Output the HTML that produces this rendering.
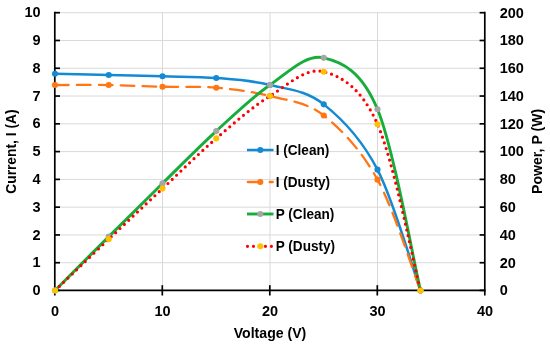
<!DOCTYPE html>
<html><head><meta charset="utf-8"><style>
html,body{margin:0;padding:0;background:#fff;}
svg{display:block;filter:blur(0.3px);}
.tk,.ti,.lg{font-family:"Liberation Sans",Arial,sans-serif;font-weight:bold;fill:#000;}
.tk{font-size:14.5px;}
.ti{font-size:14.1px;}
.lg{font-size:13.6px;}
</style></head><body>
<svg width="550" height="345" viewBox="0 0 550 345">
<rect width="550" height="345" fill="#fff"/>
<line x1="55.0" y1="262.72" x2="485.0" y2="262.72" stroke="#D9D9D9" stroke-width="1"/>
<line x1="55.0" y1="234.94" x2="485.0" y2="234.94" stroke="#D9D9D9" stroke-width="1"/>
<line x1="55.0" y1="207.16" x2="485.0" y2="207.16" stroke="#D9D9D9" stroke-width="1"/>
<line x1="55.0" y1="179.38" x2="485.0" y2="179.38" stroke="#D9D9D9" stroke-width="1"/>
<line x1="55.0" y1="151.60" x2="485.0" y2="151.60" stroke="#D9D9D9" stroke-width="1"/>
<line x1="55.0" y1="123.82" x2="485.0" y2="123.82" stroke="#D9D9D9" stroke-width="1"/>
<line x1="55.0" y1="96.04" x2="485.0" y2="96.04" stroke="#D9D9D9" stroke-width="1"/>
<line x1="55.0" y1="68.26" x2="485.0" y2="68.26" stroke="#D9D9D9" stroke-width="1"/>
<line x1="55.0" y1="40.48" x2="485.0" y2="40.48" stroke="#D9D9D9" stroke-width="1"/>
<line x1="55.0" y1="12.70" x2="485.0" y2="12.70" stroke="#D9D9D9" stroke-width="1"/>
<line x1="162.50" y1="12.7" x2="162.50" y2="290.5" stroke="#D9D9D9" stroke-width="1"/>
<line x1="270.00" y1="12.7" x2="270.00" y2="290.5" stroke="#D9D9D9" stroke-width="1"/>
<line x1="377.50" y1="12.7" x2="377.50" y2="290.5" stroke="#D9D9D9" stroke-width="1"/>
<line x1="54.8" y1="11.85" x2="54.8" y2="295.5" stroke="#000" stroke-width="1.7"/>
<line x1="484.8" y1="11.85" x2="484.8" y2="295.5" stroke="#000" stroke-width="1.7"/>
<line x1="53.949999999999996" y1="290.4" x2="485.65000000000003" y2="290.4" stroke="#000" stroke-width="1.7"/>
<line x1="54.8" y1="290.40" x2="60.0" y2="290.40" stroke="#000" stroke-width="1.7"/>
<line x1="479.6" y1="290.40" x2="484.8" y2="290.40" stroke="#000" stroke-width="1.7"/>
<line x1="54.8" y1="262.72" x2="60.0" y2="262.72" stroke="#000" stroke-width="1.7"/>
<line x1="479.6" y1="262.72" x2="484.8" y2="262.72" stroke="#000" stroke-width="1.7"/>
<line x1="54.8" y1="234.94" x2="60.0" y2="234.94" stroke="#000" stroke-width="1.7"/>
<line x1="479.6" y1="234.94" x2="484.8" y2="234.94" stroke="#000" stroke-width="1.7"/>
<line x1="54.8" y1="207.16" x2="60.0" y2="207.16" stroke="#000" stroke-width="1.7"/>
<line x1="479.6" y1="207.16" x2="484.8" y2="207.16" stroke="#000" stroke-width="1.7"/>
<line x1="54.8" y1="179.38" x2="60.0" y2="179.38" stroke="#000" stroke-width="1.7"/>
<line x1="479.6" y1="179.38" x2="484.8" y2="179.38" stroke="#000" stroke-width="1.7"/>
<line x1="54.8" y1="151.60" x2="60.0" y2="151.60" stroke="#000" stroke-width="1.7"/>
<line x1="479.6" y1="151.60" x2="484.8" y2="151.60" stroke="#000" stroke-width="1.7"/>
<line x1="54.8" y1="123.82" x2="60.0" y2="123.82" stroke="#000" stroke-width="1.7"/>
<line x1="479.6" y1="123.82" x2="484.8" y2="123.82" stroke="#000" stroke-width="1.7"/>
<line x1="54.8" y1="96.04" x2="60.0" y2="96.04" stroke="#000" stroke-width="1.7"/>
<line x1="479.6" y1="96.04" x2="484.8" y2="96.04" stroke="#000" stroke-width="1.7"/>
<line x1="54.8" y1="68.26" x2="60.0" y2="68.26" stroke="#000" stroke-width="1.7"/>
<line x1="479.6" y1="68.26" x2="484.8" y2="68.26" stroke="#000" stroke-width="1.7"/>
<line x1="54.8" y1="40.48" x2="60.0" y2="40.48" stroke="#000" stroke-width="1.7"/>
<line x1="479.6" y1="40.48" x2="484.8" y2="40.48" stroke="#000" stroke-width="1.7"/>
<line x1="54.8" y1="12.70" x2="60.0" y2="12.70" stroke="#000" stroke-width="1.7"/>
<line x1="479.6" y1="12.70" x2="484.8" y2="12.70" stroke="#000" stroke-width="1.7"/>
<line x1="162.30" y1="285.2" x2="162.30" y2="295.5" stroke="#000" stroke-width="1.7"/>
<line x1="269.80" y1="285.2" x2="269.80" y2="295.5" stroke="#000" stroke-width="1.7"/>
<line x1="377.30" y1="285.2" x2="377.30" y2="295.5" stroke="#000" stroke-width="1.7"/>
<path d="M55.00,73.82 C63.96,74.00 90.83,74.51 108.75,74.93 C126.67,75.34 144.58,75.81 162.50,76.32 C180.42,76.83 198.33,76.55 216.25,77.98 C234.17,79.42 252.08,80.53 270.00,84.93 C287.92,89.33 305.83,90.25 323.75,104.37 C341.67,118.50 361.38,138.64 377.50,169.66 C393.62,200.68 413.33,270.36 420.50,290.50" fill="none" stroke="#1489D4" stroke-width="2.5"/>
<circle cx="55.00" cy="73.82" r="3.05" fill="#1489D4"/>
<circle cx="108.75" cy="74.93" r="3.05" fill="#1489D4"/>
<circle cx="162.50" cy="76.32" r="3.05" fill="#1489D4"/>
<circle cx="216.25" cy="77.98" r="3.05" fill="#1489D4"/>
<circle cx="270.00" cy="84.93" r="3.05" fill="#1489D4"/>
<circle cx="323.75" cy="104.37" r="3.05" fill="#1489D4"/>
<circle cx="377.50" cy="169.66" r="3.05" fill="#1489D4"/>
<circle cx="420.50" cy="290.50" r="3.05" fill="#1489D4"/>
<path d="M55.00,85.07 C63.96,85.07 90.83,84.79 108.75,85.07 C126.67,85.34 144.58,86.29 162.50,86.73 C180.42,87.17 198.33,86.15 216.25,87.71 C234.17,89.26 252.08,91.41 270.00,96.04 C287.92,100.67 305.83,101.55 323.75,115.49 C341.67,129.42 361.38,150.49 377.50,179.66 C393.62,208.83 413.33,272.03 420.50,290.50" fill="none" stroke="#FF7614" stroke-width="2.3" stroke-dasharray="13.7 8.2" stroke-linecap="round"/>
<circle cx="55.00" cy="85.07" r="3.05" fill="#FF7614"/>
<circle cx="108.75" cy="85.07" r="3.05" fill="#FF7614"/>
<circle cx="162.50" cy="86.73" r="3.05" fill="#FF7614"/>
<circle cx="216.25" cy="87.71" r="3.05" fill="#FF7614"/>
<circle cx="270.00" cy="96.04" r="3.05" fill="#FF7614"/>
<circle cx="323.75" cy="115.49" r="3.05" fill="#FF7614"/>
<circle cx="377.50" cy="179.66" r="3.05" fill="#FF7614"/>
<circle cx="420.50" cy="290.50" r="3.05" fill="#FF7614"/>
<path d="M55.00,290.50 C63.96,281.52 90.83,254.46 108.75,236.61 C126.67,218.76 144.58,200.99 162.50,183.41 C180.42,165.83 198.33,147.53 216.25,131.11 C234.17,114.70 252.08,97.14 270.00,84.93 C287.92,72.72 305.83,53.79 323.75,57.84 C341.67,61.89 361.38,70.46 377.50,109.24 C393.62,148.01 413.33,260.29 420.50,290.50" fill="none" stroke="#16AD3A" stroke-width="2.9"/>
<circle cx="55.00" cy="290.50" r="3.05" fill="#A6A6A6"/>
<circle cx="108.75" cy="236.61" r="3.05" fill="#A6A6A6"/>
<circle cx="162.50" cy="183.41" r="3.05" fill="#A6A6A6"/>
<circle cx="216.25" cy="131.11" r="3.05" fill="#A6A6A6"/>
<circle cx="270.00" cy="84.93" r="3.05" fill="#A6A6A6"/>
<circle cx="323.75" cy="57.84" r="3.05" fill="#A6A6A6"/>
<circle cx="377.50" cy="109.24" r="3.05" fill="#A6A6A6"/>
<circle cx="420.50" cy="290.50" r="3.05" fill="#A6A6A6"/>
<path d="M55.00,290.50 C63.96,281.94 90.83,256.12 108.75,239.14 C126.67,222.16 144.58,205.41 162.50,188.62 C180.42,171.83 198.33,153.83 216.25,138.40 C234.17,122.98 252.08,107.15 270.00,96.04 C287.92,84.93 305.83,67.03 323.75,71.73 C341.67,76.43 361.38,87.78 377.50,124.24 C393.62,160.70 413.33,262.79 420.50,290.50" fill="none" stroke="#FF0000" stroke-width="3.2" stroke-dasharray="0 5.984" stroke-linecap="round"/>
<circle cx="55.00" cy="290.50" r="3.05" fill="#FFC000"/>
<circle cx="108.75" cy="239.14" r="3.05" fill="#FFC000"/>
<circle cx="162.50" cy="188.62" r="3.05" fill="#FFC000"/>
<circle cx="216.25" cy="138.40" r="3.05" fill="#FFC000"/>
<circle cx="270.00" cy="96.04" r="3.05" fill="#FFC000"/>
<circle cx="323.75" cy="71.73" r="3.05" fill="#FFC000"/>
<circle cx="377.50" cy="124.24" r="3.05" fill="#FFC000"/>
<circle cx="420.50" cy="290.50" r="3.05" fill="#FFC000"/>
<line x1="247.0" y1="150" x2="273.5" y2="150" stroke="#1489D4" stroke-width="2.5"/>
<circle cx="260.3" cy="150" r="3.05" fill="#1489D4"/>
<text transform="translate(275.7,154.6) scale(1,1.1)" class="lg">I (Clean)</text>
<line x1="247.8" y1="182" x2="272.8" y2="182" stroke="#FF7614" stroke-width="2.3" stroke-dasharray="13.7 8.2" stroke-linecap="round"/>
<circle cx="260.3" cy="182" r="3.05" fill="#FF7614"/>
<text transform="translate(275.7,186.6) scale(1,1.1)" class="lg">I (Dusty)</text>
<line x1="247.0" y1="214" x2="273.5" y2="214" stroke="#16AD3A" stroke-width="2.9"/>
<circle cx="260.3" cy="214" r="3.05" fill="#A6A6A6"/>
<text transform="translate(275.7,218.6) scale(1,1.1)" class="lg">P (Clean)</text>
<line x1="247.5" y1="246.3" x2="273.5" y2="246.3" stroke="#FF0000" stroke-width="3.2" stroke-dasharray="0 5.984" stroke-linecap="round"/>
<circle cx="260.3" cy="246.3" r="3.05" fill="#FFC000"/>
<text transform="translate(275.7,250.9) scale(1,1.1)" class="lg">P (Dusty)</text>
<text x="40.7" y="295.10" class="tk" text-anchor="end">0</text>
<text x="40.7" y="267.32" class="tk" text-anchor="end">1</text>
<text x="40.7" y="239.54" class="tk" text-anchor="end">2</text>
<text x="40.7" y="211.76" class="tk" text-anchor="end">3</text>
<text x="40.7" y="183.98" class="tk" text-anchor="end">4</text>
<text x="40.7" y="156.20" class="tk" text-anchor="end">5</text>
<text x="40.7" y="128.42" class="tk" text-anchor="end">6</text>
<text x="40.7" y="100.64" class="tk" text-anchor="end">7</text>
<text x="40.7" y="72.86" class="tk" text-anchor="end">8</text>
<text x="40.7" y="45.08" class="tk" text-anchor="end">9</text>
<text x="40.7" y="17.30" class="tk" text-anchor="end">10</text>
<text x="499.7" y="295.30" class="tk">0</text>
<text x="499.7" y="267.52" class="tk">20</text>
<text x="499.7" y="239.74" class="tk">40</text>
<text x="499.7" y="211.96" class="tk">60</text>
<text x="499.7" y="184.18" class="tk">80</text>
<text x="499.7" y="156.40" class="tk">100</text>
<text x="499.7" y="128.62" class="tk">120</text>
<text x="499.7" y="100.84" class="tk">140</text>
<text x="499.7" y="73.06" class="tk">160</text>
<text x="499.7" y="45.28" class="tk">180</text>
<text x="499.7" y="17.50" class="tk">200</text>
<text x="55.00" y="316" class="tk" text-anchor="middle">0</text>
<text x="162.50" y="316" class="tk" text-anchor="middle">10</text>
<text x="270.00" y="316" class="tk" text-anchor="middle">20</text>
<text x="377.50" y="316" class="tk" text-anchor="middle">30</text>
<text x="485.00" y="316" class="tk" text-anchor="middle">40</text>
<text x="270" y="338" class="ti" text-anchor="middle">Voltage (V)</text>
<text transform="translate(16.2,151.6) rotate(-90) scale(1,1.0)" x="0" y="0" class="ti" style="font-size:13.8px" text-anchor="middle">Current, I (A)</text>
<text transform="translate(542,151.4) rotate(-90) scale(1,1.0)" x="0" y="0" class="ti" text-anchor="middle">Power, P (W)</text>
</svg>
</body></html>
